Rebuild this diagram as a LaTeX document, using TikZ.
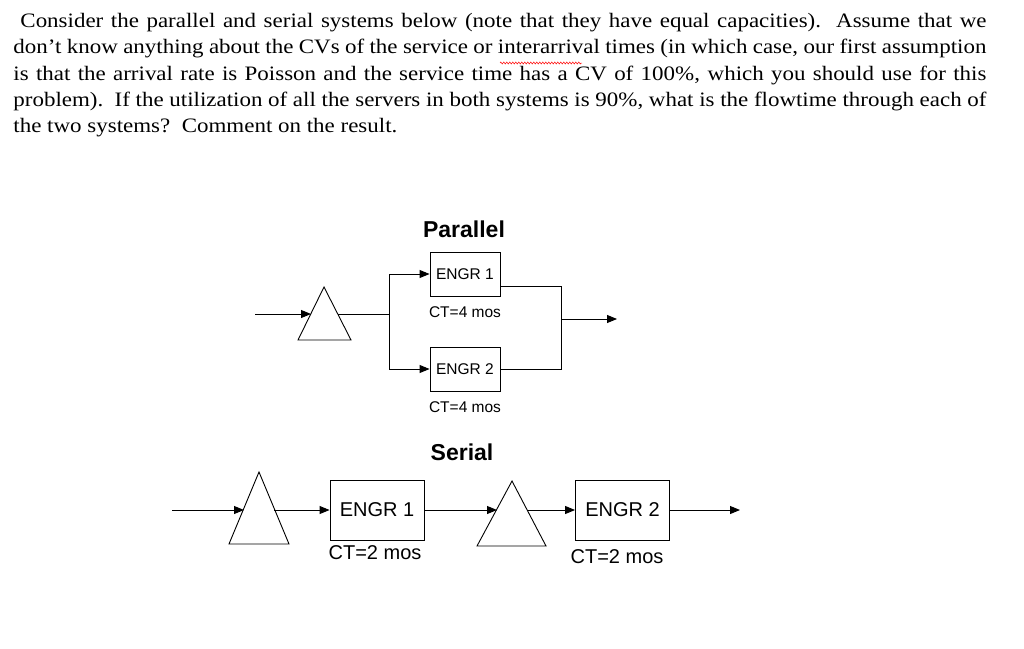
\documentclass[tikz,border=0pt]{standalone}
\usepackage{fontspec}
\setmainfont[FakeStretch=1.12]{Liberation Serif}
\setsansfont{Liberation Sans}
\usetikzlibrary{arrows.meta,decorations.pathmorphing}
\begin{document}
\begin{tikzpicture}[x=1pt,y=-1pt,line width=0.9pt,
  wire/.style={-{Triangle[length=10pt,width=8pt]}},
  pbox/.style={draw,minimum width=70pt,minimum height=44pt,font=\sffamily\fontsize{15.5}{17}\selectfont},
  sbox/.style={draw,minimum width=94pt,minimum height=60pt,font=\sffamily\fontsize{20}{22}\selectfont},
  plab/.style={font=\sffamily\fontsize{15.5}{17}\selectfont},
  slab/.style={font=\sffamily\fontsize{20}{22}\selectfont},
  ttl/.style={font=\sffamily\bfseries\fontsize{23}{25}\selectfont}]
\useasboundingbox (0,0) rectangle (1024,648);
\node[anchor=north west,inner sep=0pt,text width=973pt,align=justify,font=\fontsize{20.5}{26.3}\selectfont] (txt) at (13,13)
{\hspace*{7pt}Consider the parallel and serial systems below (note that they have equal capacities).\ \ Assume that we don’t know anything about the CVs of the service or interarrival times (in which case, our first assumption is that the arrival rate is Poisson and the service time has a CV of 100\%, which you should use for this problem).\ \ If the utilization of all the servers in both systems is 90\%, what is the flowtime through each of the two systems?\ \ Comment on the result.};
\draw[red,line width=0.5pt,decorate,decoration={zigzag,amplitude=1pt,segment length=3pt}] (500,63) -- (582,63);
% Parallel
\node[ttl] (pt) at (464,229) {Parallel};
\node[pbox] (e1) at (465,274) {ENGR 1};
\node[pbox] (e2) at (465,369) {ENGR 2};
\node[plab] (c1) at (465,312) {CT=4 mos};
\node[plab] (c2) at (465,407) {CT=4 mos};
\coordinate (ta) at (324,287); \coordinate (tb) at (298,340); \coordinate (tc) at (351,340);
\draw (ta) -- (tb) -- (tc) -- cycle;
\coordinate (in) at (255,314); \coordinate (tl) at (311,314); \coordinate (tr) at (338,314);
\coordinate (sp) at (389,314); \coordinate (mg) at (561,319); \coordinate (out) at (617,319);
\draw[wire] (in) -- (tl);
\draw (tr) -- (sp);
\draw[wire] (sp) |- (e1.west);
\draw[wire] (sp) |- (e2.west);
\draw (e1.east |- 0,286) -| (mg);
\draw (e2.east) -| (mg);
\draw[wire] (mg) -- (out);
% Serial
\node[ttl] (st) at (462,452) {Serial};
\node[sbox] (s1) at (377,510) {ENGR 1};
\node[sbox] (s2) at (622.5,510) {ENGR 2};
\node[slab] (d1) at (375,553) {CT=2 mos};
\node[slab] (d2) at (617,557) {CT=2 mos};
\draw (259,472) coordinate (u1) -- (229,544) coordinate (u2) -- (289,544) coordinate (u3) -- cycle;
\draw (512,481) coordinate (v1) -- (477,546) coordinate (v2) -- (546,546) coordinate (v3) -- cycle;
\coordinate (sin) at (172,510); \coordinate (a1) at (244,510); \coordinate (a2) at (274,510);
\coordinate (b1) at (497,510); \coordinate (b2) at (527,510); \coordinate (sout) at (740,510);
\draw[wire] (sin) -- (a1);
\draw[wire] (a2) -- (s1.west);
\draw[wire] (s1.east) -- (b1);
\draw[wire] (b2) -- (s2.west);
\draw[wire] (s2.east) -- (sout);
\end{tikzpicture}
\end{document}
